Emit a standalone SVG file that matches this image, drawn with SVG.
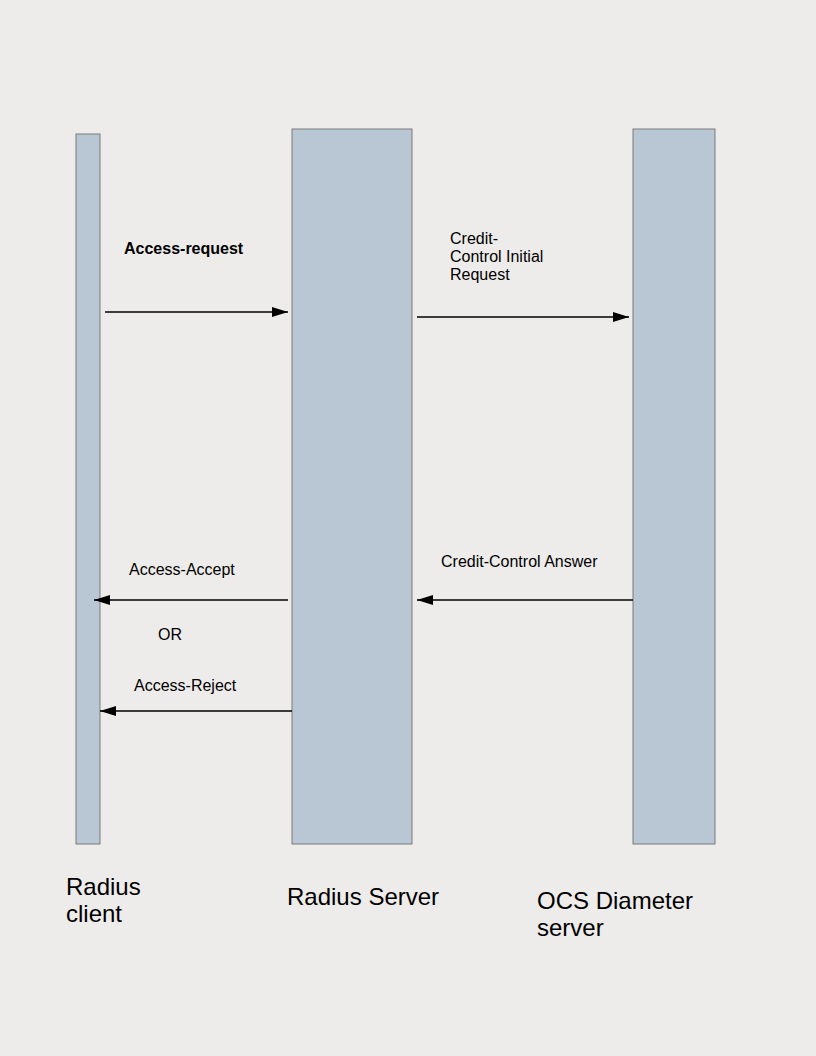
<svg xmlns="http://www.w3.org/2000/svg" width="816" height="1056" viewBox="0 0 816 1056">
<style>
.bar{fill:#b8c7d3;stroke:#7a7a7a;stroke-width:1}
.ln{stroke:#000;stroke-width:1.3;fill:none}
.t{font-family:"Liberation Sans",Arial,sans-serif;font-size:16px;fill:#000}
.b{font-family:"Liberation Sans",Arial,sans-serif;font-size:24px;fill:#000}
</style>
<defs>
<marker id="ah" markerWidth="16" markerHeight="10" refX="16" refY="5" orient="auto" markerUnits="userSpaceOnUse"><path d="M0,0 L16,5 L0,10 Z" fill="#000"/></marker>
</defs>
<rect width="816" height="1056" fill="#eeecea"/>
<g id="client"><rect class="bar" x="76" y="134" width="24" height="710"/><text class="b" x="66" y="895">Radius</text><text class="b" x="66" y="922">client</text></g>
<g id="server"><rect class="bar" x="292" y="129" width="120" height="715"/><text class="b" x="287" y="905">Radius Server</text></g>
<g id="ocs"><rect class="bar" x="633" y="129" width="82" height="715"/><text class="b" x="537" y="909">OCS Diameter</text><text class="b" x="537" y="936">server</text></g>
<g id="connectors">
<line class="ln" x1="105" y1="312" x2="288" y2="312" marker-end="url(#ah)"/>
<line class="ln" x1="417" y1="317" x2="629" y2="317" marker-end="url(#ah)"/>
<line class="ln" x1="633" y1="600" x2="417" y2="600" marker-end="url(#ah)"/>
<line class="ln" x1="288" y1="600" x2="94" y2="600" marker-end="url(#ah)"/>
<line class="ln" x1="292" y1="711" x2="100" y2="711" marker-end="url(#ah)"/>
</g>
<text class="t" x="124" y="254" font-weight="bold">Access-request</text>
<text class="t" x="450" y="244">Credit-</text>
<text class="t" x="450" y="262">Control Initial</text>
<text class="t" x="450" y="280">Request</text>
<text class="t" x="441" y="567">Credit-Control Answer</text>
<text class="t" x="129" y="575">Access-Accept</text>
<text class="t" x="158" y="640" font-size="18">OR</text>
<text class="t" x="134" y="691">Access-Reject</text>
</svg>
